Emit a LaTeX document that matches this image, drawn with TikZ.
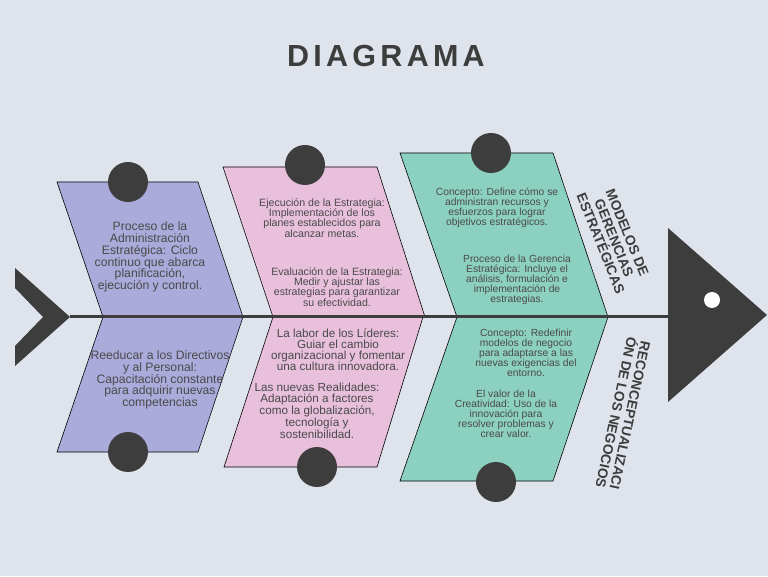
\documentclass[tikz,border=0pt]{standalone}
\usepackage{fontspec}
\setmainfont{Liberation Sans}
\newfontfamily\titlefont[LetterSpace=14]{Liberation Sans}
\definecolor{bgc}{HTML}{DEE3EC}
\definecolor{dark}{HTML}{3D3D3D}
\definecolor{txt}{HTML}{4A4A4A}
\definecolor{bluep}{HTML}{AAAADB}
\definecolor{pinkp}{HTML}{E8C0DC}
\definecolor{greenp}{HTML}{8CD0C0}
\begin{document}
\begin{tikzpicture}[x=1pt,y=1pt,
  panel/.style={draw=black,line width=0.6pt},
  dot/.style={circle,fill=dark,minimum size=40pt,inner sep=0pt},
  bodyA/.style={align=center,text=txt,font=\fontsize{12.2}{11.8}\selectfont,inner sep=0pt},
  bodyB/.style={align=center,text=txt,font=\fontsize{10.6}{10.2}\selectfont,inner sep=0pt},
  bodyP/.style={align=center,text=txt,font=\fontsize{11.7}{11}\selectfont,inner sep=0pt},
  bodyC/.style={align=center,text=txt,font=\fontsize{10.3}{10}\selectfont,inner sep=0pt},
  side/.style={align=center,text=dark,font=\bfseries\fontsize{13.8}{14.3}\selectfont,inner sep=0pt}]
\fill[bgc] (0,0) rectangle (768,576);
\useasboundingbox (0,0) rectangle (768,576);
% title
\node[text=dark,font=\titlefont\bfseries\fontsize{30.5}{32}\selectfont] (title) at (386,520) {DIAGRAMA};
% panels
\draw[panel,fill=bluep] (57,394) -- (198,394) -- (243,259) -- (103,259) -- cycle;
\draw[panel,fill=bluep] (103,259) -- (243,259) -- (198,124) -- (57,124) -- cycle;
\draw[panel,fill=pinkp] (223,409) -- (377,409) -- (425,259) -- (273,259) -- cycle;
\draw[panel,fill=pinkp] (273,259) -- (423,259) -- (377,109) -- (224,109) -- cycle;
\draw[panel,fill=greenp] (400,423) -- (553,423) -- (608,259) -- (457,259) -- cycle;
\draw[panel,fill=greenp] (457,259) -- (608,259) -- (553,95) -- (400,95) -- cycle;
% tail and head
\fill[dark] (15,308) -- (70,259) -- (15,210) -- (15,230) -- (43,259) -- (15,288) -- cycle;
\node[inner sep=0pt] (tail) at (70,259) {};
\fill[dark] (668,348) -- (767,261) -- (668,174) -- cycle;
\node[inner sep=0pt] (head) at (668,259) {};
\fill[white] (712,276) circle (8);
% spine
\draw[dark,line width=3pt] (tail.center) -- (head.center);
% dots
\node[dot] (c1) at (128,394) {};
\node[dot] (c2) at (128,124) {};
\node[dot] (c3) at (305,411) {};
\node[dot] (c4) at (317,109) {};
\node[dot] (c5) at (491,423) {};
\node[dot] (c6) at (496,94) {};
% texts
\node[bodyA] (t1) at (150,319) {Proceso de la\\Administración\\Estratégica: Ciclo\\continuo que abarca\\planificación,\\ejecución y control.};
\node[bodyA] (t2) at (160,196) {Reeducar a los Directivos\\y al Personal:\\Capacitación constante\\para adquirir nuevas\\competencias};
\node[bodyB] (t3) at (322,358) {Ejecución de la Estrategia:\\Implementación de los\\planes establecidos para\\alcanzar metas.};
\node[bodyB] (t4) at (337,289) {Evaluación de la Estrategia:\\Medir y ajustar las\\estrategias para garantizar\\su efectividad.};
\node[bodyP] (t5) at (338,226) {La labor de los Líderes:\\Guiar el cambio\\organizacional y fomentar\\una cultura innovadora.};
\node[bodyP,font=\fontsize{11.7}{10.6}\selectfont] (t6) at (317,165) {Las nuevas Realidades:\\Adaptación a factores\\como la globalización,\\tecnología y\\sostenibilidad.};
\node[bodyC] (t7) at (497,368) {Concepto: Define cómo se\\administran recursos y\\esfuerzos para lograr\\objetivos estratégicos.};
\node[bodyC] (t8) at (517,296) {Proceso de la Gerencia\\Estratégica: Incluye el\\análisis, formulación e\\implementación de\\estrategias.};
\node[bodyC] (t9) at (526,223) {Concepto: Redefinir\\modelos de negocio\\para adaptarse a las\\nuevas exigencias del\\entorno.};
\node[bodyC] (t10) at (506,162) {El valor de la\\Creatividad: Uso de la\\innovación para\\resolver problemas y\\crear valor.};
% side labels
\node[side,rotate=-68] (s1) at (614,338) {MODELOS DE\\GERENCIAS\\ESTRATÉGICAS};
\node[side,rotate=-102] (s2) at (623,162) {RECONCEPTUALIZACI\\ÓN DE LOS NEGOCIOS};
\end{tikzpicture}
\end{document}
